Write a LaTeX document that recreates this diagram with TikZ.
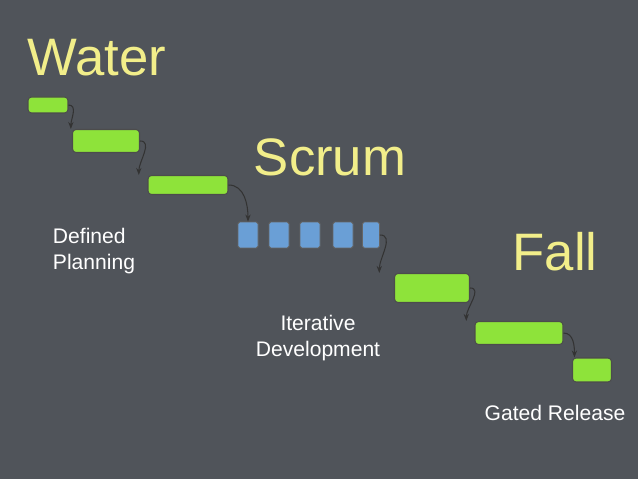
\documentclass[tikz,border=0pt]{standalone}
\usepackage{fontspec}
\setmainfont{Liberation Sans}
\usetikzlibrary{arrows.meta,positioning}
\definecolor{bg}{HTML}{50545A}
\definecolor{lime}{HTML}{8EE33A}
\definecolor{sky}{HTML}{6A9FD6}
\definecolor{sun}{HTML}{F2EE8A}
\tikzset{
  >=Stealth,
  bar/.style={rectangle,draw=black!70,fill=lime,rounded corners=2pt,inner sep=0pt,line width=0.6pt},
  blk/.style={rectangle,draw=black!60,fill=sky,rounded corners=1pt,inner sep=0pt,minimum width=0.4cm,minimum height=0.52cm,line width=0.5pt},
  handoff/.style={-{Stealth[length=4pt]},black!80,line width=0.6pt},
  big/.style={font=\fontsize{30}{30}\selectfont,text=sun},
  lbl/.style={font=\fontsize{12}{15}\selectfont,text=white!92,align=center}
}
\begin{document}
\begin{tikzpicture}[x=0.02cm,y=-0.02cm]
  \fill[bg] (0,0) rectangle (638,479);
  \useasboundingbox (0,0) rectangle (638,479);
  % Waterfall bars
  \node[bar,minimum width=0.8cm,minimum height=0.32cm] (b1) at (48,105) {};
  \node[bar,minimum width=1.34cm,minimum height=0.46cm] (b2) at (106,141) {};
  \node[bar,minimum width=1.6cm,minimum height=0.38cm] (b3) at (188,185) {};
  % Scrum sprints
  \node[blk] (q1) at (248,235) {};
  \node[blk] (q2) at (279,235) {};
  \node[blk] (q3) at (310,235) {};
  \node[blk] (q4) at (343,235) {};
  \node[blk,minimum width=0.34cm] (q5) at (371,235) {};
  % Fall bars
  \node[bar,minimum width=1.5cm,minimum height=0.58cm] (b4) at (432,288) {};
  \node[bar,minimum width=1.76cm,minimum height=0.46cm] (b5) at (519,333) {};
  \node[bar,minimum width=0.78cm,minimum height=0.48cm] (b6) at (592,370) {};
  % Hand-offs
  \draw[handoff] (b1.east) to[out=0,in=90] ([xshift=-20]b2.north);
  \draw[handoff] (b2.east) to[out=0,in=90] ([xshift=-28]b3.north);
  \draw[handoff] (b3.east) to[out=0,in=90] (q1.north);
  \draw[handoff] (q5.east) to[out=0,in=90] ([xshift=-30]b4.north);
  \draw[handoff] (b4.east) to[out=0,in=90] ([xshift=-30]b5.north);
  \draw[handoff] (b5.east) to[out=0,in=90] ([xshift=-10]b6.north);
  % Titles
  \node[big] (water) at (97,58) {Water};
  \node[big] (scrum) at (330,157) {Scrum};
  \node[big] (fall) at (555,252) {Fall};
  % Labels
  \node[lbl,align=left] (plan) at (94,251) {Defined\\Planning};
  \node[lbl] (dev) at (318,338) {Iterative\\Development};
  \node[lbl] (rel) at (555,413) {Gated Release};
\end{tikzpicture}
\end{document}
